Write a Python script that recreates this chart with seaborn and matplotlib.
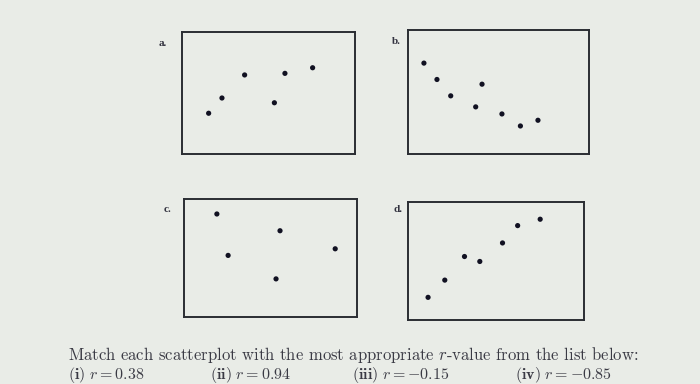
import matplotlib
matplotlib.use("Agg")
import matplotlib.pyplot as plt
import seaborn as sns
import pandas as pd

sns.set_theme(style="white")
plt.rcParams["font.family"] = ["Liberation Serif", "DejaVu Serif"]
plt.rcParams["mathtext.fontset"] = "cm"

# Panel data (x, y on a 0-10 scale inside each box)
a_x = [1.54, 2.31, 3.62, 5.34, 5.95, 7.55]
a_y = [3.34, 4.59, 6.48, 4.20, 6.61, 7.07]
b_x = [0.88, 1.60, 2.36, 4.09, 3.74, 5.19, 6.21, 7.18]
b_y = [7.33, 6.01, 4.69, 5.63, 3.80, 3.23, 2.26, 2.72]
c_x = [1.90, 2.55, 5.55, 5.32, 8.74]
c_y = [8.73, 5.22, 7.31, 3.23, 5.78]
d_x = [1.14, 2.09, 3.21, 4.08, 5.37, 6.23, 7.51]
d_y = [1.92, 3.38, 5.38, 4.96, 6.53, 8.00, 8.54]
panel_labels = ["a.", "b.", "c.", "d."]

question = "Match each scatterplot with the most appropriate $r$-value from the list below:"
choices = [r"$\mathbf{(i)}\ r = 0.38$", r"$\mathbf{(ii)}\ r = 0.94$",
           r"$\mathbf{(iii)}\ r = -0.15$", r"$\mathbf{(iv)}\ r = -0.85$"]

W, H = 700, 384
fig = plt.figure(figsize=(W / 100, H / 100), dpi=100)
bg = "#e9ece7"
fig.patch.set_facecolor(bg)

# boxes in pixel coordinates: left, top, right, bottom
boxes = [(182, 32, 355, 154), (408, 30, 589, 154),
         (184, 199, 357, 317), (408, 202, 584, 320)]
data = [(a_x, a_y), (b_x, b_y), (c_x, c_y), (d_x, d_y)]
label_pos = [(163, 43), (396, 42), (168, 210), (398, 210)]

for (l, t, r, b), (xs, ys), lab, (lx, ly) in zip(boxes, data, panel_labels, label_pos):
    ax = fig.add_axes([l / W, 1 - b / H, (r - l) / W, (b - t) / H])
    df = pd.DataFrame({"x": xs, "y": ys})
    sns.scatterplot(data=df, x="x", y="y", ax=ax, color="#111122", s=14,
                    edgecolor="none", legend=False)
    ax.set_xlim(0, 10)
    ax.set_ylim(0, 10)
    ax.set_xticks([])
    ax.set_yticks([])
    ax.set_xlabel("")
    ax.set_ylabel("")
    ax.set_facecolor(bg)
    for sp in ax.spines.values():
        sp.set_visible(True)
        sp.set_color("#2a2d33")
        sp.set_linewidth(1.4)
    fig.text(lx / W, 1 - ly / H, lab, fontsize=8, fontweight="bold",
             color="#333340", ha="center", va="center")

fig.text(68 / W, 1 - 355 / H, question, fontsize=12, color="#3a3a44",
         ha="left", va="center", family=["cmr10", "DejaVu Serif"])
for xpos, ch in zip([68, 210, 352, 515], choices):
    fig.text(xpos / W, 1 - 375 / H, ch, fontsize=11.5, color="#3a3a44",
             ha="left", va="center")

fig.savefig("out.png", dpi=100, facecolor=fig.get_facecolor())
